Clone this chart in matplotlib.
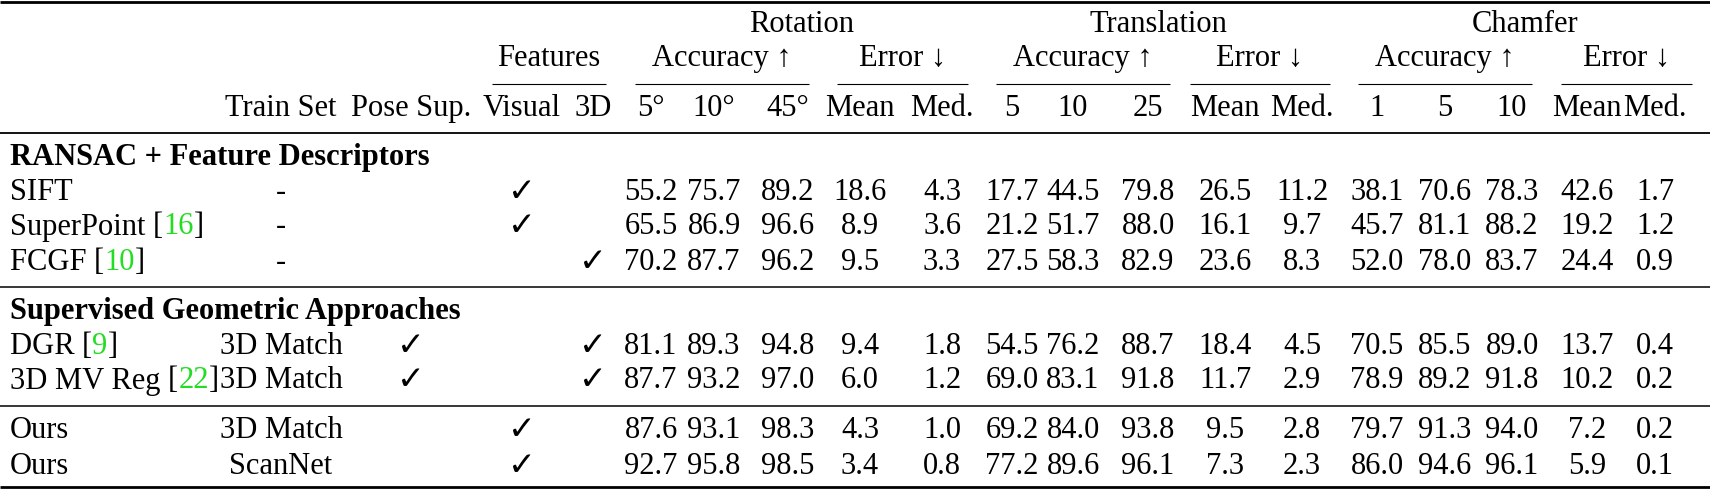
import matplotlib.pyplot as plt

plt.rcParams["font.family"] = ["Liberation Serif", "DejaVu Sans"]

W, H = 1710, 491
FS = 22
GREEN = "#22dd22"

# column layout (x centers, pixels)
col_x = [651, 714, 788, 860, 942, 1012, 1073, 1148, 1225, 1302, 1377, 1445, 1512, 1587, 1655]
sub_headers = ["5°", "10°", "45°", "Mean", "Med.", "5", "10", "25", "Mean", "Med.",
               "1", "5", "10", "Mean", "Med."]

sections = ["RANSAC + Feature Descriptors", "Supervised Geometric Approaches", None]
methods = [
    [("SIFT", None), ("SuperPoint ", "16"), ("FCGF ", "10")],
    [("DGR ", "9"), ("3D MV Reg ", "22")],
    [("Ours", None), ("Ours", None)],
]
train_set = [["-", "-", "-"], ["3D Match", "3D Match"], ["3D Match", "ScanNet"]]
pose_sup = [[False, False, False], [True, True], [False, False]]
visual = [[True, True, False], [False, False], [True, True]]
feat3d = [[False, False, True], [True, True], [False, False]]
values = [
    [
        [55.2, 75.7, 89.2, 18.6, 4.3, 17.7, 44.5, 79.8, 26.5, 11.2, 38.1, 70.6, 78.3, 42.6, 1.7],
        [65.5, 86.9, 96.6, 8.9, 3.6, 21.2, 51.7, 88.0, 16.1, 9.7, 45.7, 81.1, 88.2, 19.2, 1.2],
        [70.2, 87.7, 96.2, 9.5, 3.3, 27.5, 58.3, 82.9, 23.6, 8.3, 52.0, 78.0, 83.7, 24.4, 0.9],
    ],
    [
        [81.1, 89.3, 94.8, 9.4, 1.8, 54.5, 76.2, 88.7, 18.4, 4.5, 70.5, 85.5, 89.0, 13.7, 0.4],
        [87.7, 93.2, 97.0, 6.0, 1.2, 69.0, 83.1, 91.8, 11.7, 2.9, 78.9, 89.2, 91.8, 10.2, 0.2],
    ],
    [
        [87.6, 93.1, 98.3, 4.3, 1.0, 69.2, 84.0, 93.8, 9.5, 2.8, 79.7, 91.3, 94.0, 7.2, 0.2],
        [92.7, 95.8, 98.5, 3.4, 0.8, 77.2, 89.6, 96.1, 7.3, 2.3, 86.0, 94.6, 96.1, 5.9, 0.1],
    ],
]

fig = plt.figure(figsize=(W / 100, H / 100), dpi=100)
ax = fig.add_axes([0, 0, 1, 1])
ax.set_xlim(0, W)
ax.set_ylim(H, 0)
ax.axis("off")


def txt(x, y, s, ha="center", **kw):
    kw.setdefault("fontsize", FS)
    ax.text(x, y, s, ha=ha, va="center", **kw)


def check(x, y):
    txt(x, y, "✓", fontsize=24, fontweight="bold")


def rule(x0, x1, y, lw):
    ax.plot([x0, x1], [y, y], color="black", lw=lw, solid_capstyle="butt")


# header
rule(0, W, 2, 2.0)
txt(802, 24, "Rotation")
txt(1158, 24, "Translation")
txt(1525, 24, "Chamfer")
txt(549, 58, "Features")
for (x0, x1), label in zip(
    [(635, 809), (837, 968), (996, 1170), (1190, 1330), (1358, 1532), (1561, 1692)],
    ["Accuracy ↑", "Error ↓"] * 3,
):
    txt((x0 + x1) / 2, 58, label)
    rule(x0, x1, 84, 0.8)
rule(492, 606, 84, 0.8)
txt(281, 108, "Train Set")
txt(411, 108, "Pose Sup.")
txt(522, 108, "Visual")
txt(593, 108, "3D")
for x, s in zip(col_x, sub_headers):
    txt(x, 108, s)
rule(0, W, 133, 1.3)

# body
y = 133
for si, sec in enumerate(sections):
    if sec:
        y += 24
        txt(10, y, sec, ha="left", fontweight="bold")
    else:
        y -= 10
    for ri, (name, ref) in enumerate(methods[si]):
        y += 35
        t = ax.text(10, y, name, ha="left", va="center", fontsize=FS)
        if ref:
            fig.canvas.draw()
            bb = t.get_window_extent().transformed(ax.transData.inverted())
            t2 = ax.text(bb.x1, y, "[", ha="left", va="center", fontsize=FS)
            bb = t2.get_window_extent().transformed(ax.transData.inverted())
            t3 = ax.text(bb.x1, y, ref, ha="left", va="center", fontsize=FS, color=GREEN)
            bb = t3.get_window_extent().transformed(ax.transData.inverted())
            ax.text(bb.x1, y, "]", ha="left", va="center", fontsize=FS)
        txt(281, y, train_set[si][ri])
        if pose_sup[si][ri]:
            check(411, y)
        if visual[si][ri]:
            check(522, y)
        if feat3d[si][ri]:
            check(593, y)
        for x, v in zip(col_x, values[si][ri]):
            txt(x, y, f"{v:.1f}")
    y += 25
    if si < 2:
        rule(0, W, y, 1.1)
rule(0, W, 487, 2.0)

fig.savefig("out.png", dpi=100)
